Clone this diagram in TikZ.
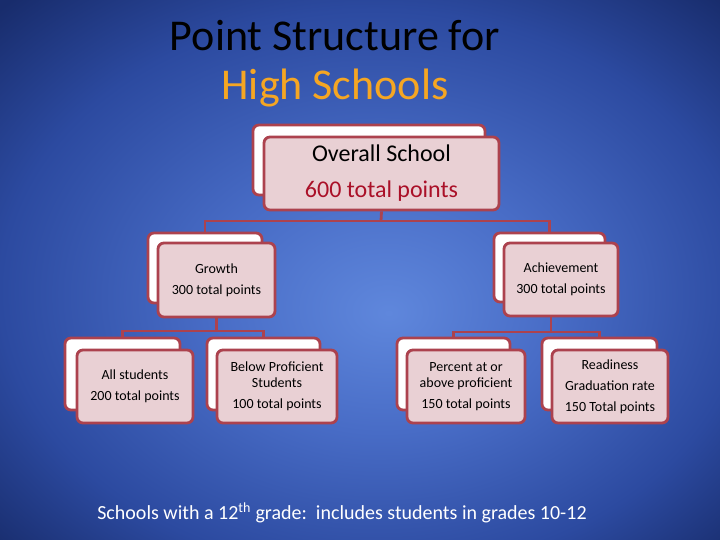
\documentclass[tikz,border=0pt]{standalone}
\usepackage{fontspec}
\setmainfont{Carlito}
\usetikzlibrary{positioning}
\definecolor{bgin}{RGB}{95,135,220}
\definecolor{bgmid}{RGB}{72,108,198}
\definecolor{bgedge}{RGB}{44,74,160}
\definecolor{bgout}{RGB}{24,44,108}
\definecolor{edgered}{RGB}{172,66,78}
\definecolor{boxpink}{RGB}{233,208,212}
\definecolor{ptsred}{RGB}{170,16,40}
\definecolor{titleorange}{RGB}{245,166,35}
\pgfdeclareradialshading{bgshade}{\pgfpoint{2bp}{-4bp}}{color(0bp)=(bgin); color(12bp)=(bgmid); color(26bp)=(bgedge); color(36bp)=(bgout); color(50bp)=(bgout)}
\tikzset{
  backbox/.style={draw=edgered, line width=2.8pt, fill=white, rounded corners=6pt, minimum width=#1, minimum height=72pt},
  frontbox/.style={draw=edgered, line width=2.8pt, fill=boxpink, rounded corners=6pt, minimum width=#1, minimum height=73pt, align=center, font=\fontsize{14}{21}\selectfont, inner sep=1pt},
  conn/.style={draw=edgered, line width=2.8pt}
}

\begin{document}
\begin{tikzpicture}[x=1pt,y=-1pt]
	\shade[shading=bgshade] (0,0) rectangle (720,540);
	\useasboundingbox (0,0) rectangle (720,540);
	% title
	\node (t1) at (335,36) {\fontsize{44}{52}\selectfont Point Structure for};
	\node[text=titleorange] (t2) at (335,88) {\fontsize{44}{52}\selectfont High Schools};
	% top level
	\node[backbox=232pt, minimum height=70pt] (overallb) at (369,160) {};
	\node[frontbox=235pt, font=\fontsize{24}{36}\selectfont] (overall) at (381.5,173.5) {Overall School\\\textcolor{ptsred}{600 total points}};
	% second level
	\node[backbox=114pt, minimum height=70pt] (growthb) at (205,268) {};
	\node[frontbox=117pt, minimum height=74pt] (growth) at (216.5,280) {Growth\\300 total points};
	\node[backbox=111pt, minimum height=69pt] (achieveb) at (549.5,267.5) {};
	\node[frontbox=114pt] (achieve) at (561,279.5) {Achievement\\300 total points};
	% third level
	\node[backbox=115pt] (allb) at (122.5,374) {};
	\node[frontbox=116pt] (all) at (135,386.5) {All students\\200 total points};
	\node[backbox=113pt] (belowb) at (263.5,374) {};
	\node[frontbox=120pt, font=\fontsize{14}{16}\selectfont] (below) at (277,386.5) {Below Proficient\\Students\\[5pt]100 total points};
	\node[backbox=113pt] (percentb) at (453.5,374) {};
	\node[frontbox=118pt, font=\fontsize{14}{16}\selectfont] (percent) at (466,386.5) {Percent at or\\above proficient\\[5pt]150 total points};
	\node[backbox=115pt] (readyb) at (599.5,374) {};
	\node[frontbox=116pt] (ready) at (610,386.5) {Readiness\\Graduation rate\\150 Total points};
	% connectors
	\coordinate (j1) at (381,221);
	\coordinate (j2) at (216.5,331);
	\coordinate (j3) at (551,332);
	\draw[conn] (overall.south) -- (j1);
	\draw[conn] (growthb.north) |- (j1) -| (achieveb.north);
	\draw[conn] (growth.south) -- (j2);
	\draw[conn] (allb.north) |- (j2) -| (belowb.north);
	\draw[conn] (achieve.south -| j3) -- (j3);
	\draw[conn] (percentb.north) |- (j3) -| (readyb.north);
	% footnote
	\node[text=white] (note) at (342,513) {\fontsize{20}{24}\selectfont Schools with a 12\textsuperscript{th} grade:\ \ includes students in grades 10-12};
\end{tikzpicture}
\end{document}
